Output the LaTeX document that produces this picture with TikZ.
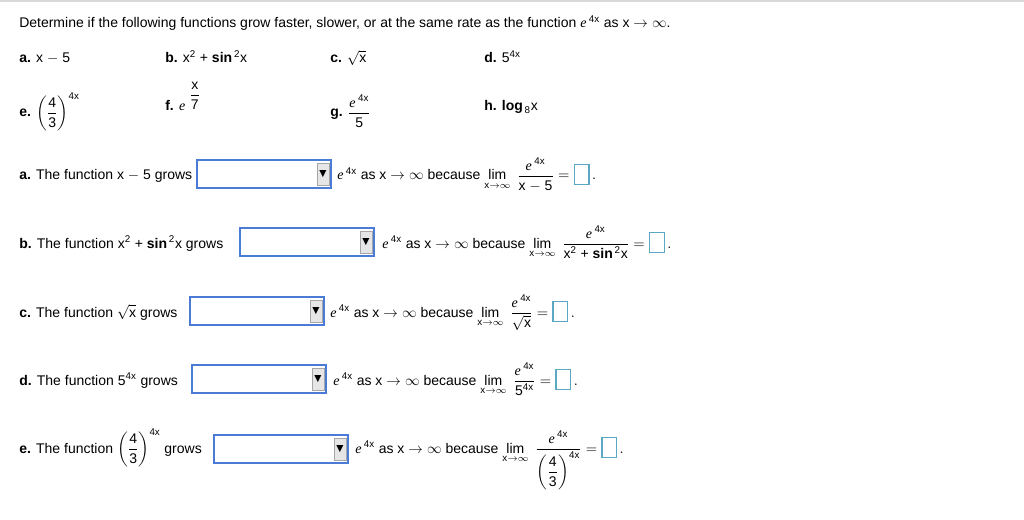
\documentclass[tikz,border=0pt]{standalone}
\usepackage{amsmath}
\usepackage{fontspec}
\setmainfont{Liberation Sans}
\newfontfamily\ser{Liberation Serif}
\newfontfamily\djsans{DejaVu Sans}
\definecolor{ddb}{HTML}{4A7BD6}
\definecolor{boxc}{HTML}{5BA7C4}
\definecolor{btn}{HTML}{E6E6E6}
\newcommand\ee{\text{\ser\itshape e}\,^{\text{4x}}}
\newcommand\tx[1]{\text{#1}}
\newcommand\ansbox{\setlength\fboxsep{0pt}\setlength\fboxrule{1pt}\fcolorbox{boxc}{white}{\rule[-3pt]{0pt}{14pt}\hspace{10pt}}\,.}
\newcommand\limx{\mathop{\text{lim}}\limits_{\text{x}\to\infty}\;}
\begin{document}
\begin{tikzpicture}[x=0.75pt,y=-0.75pt,
  txt/.style={anchor=base west,inner sep=0pt,font=\fontsize{10.5}{12.5}\selectfont},
  dd/.style={draw=ddb,line width=0.8pt,fill=white},
  ddbtn/.style={draw=gray!70,fill=btn}]
\useasboundingbox (0,0) rectangle (1024,520);
\fill[white] (0,0) rectangle (1024,520);
\draw[gray!30,line width=1.5pt] (0,1) -- (1024,1);
\node[txt] (title) at (19,28) {Determine if the following functions grow faster, slower, or at the same rate as the function $\ee$ as x $\to\infty$.};
\node[txt] (ia) at (19,63) {\textbf{a.} x $-$ 5};
\node[txt] (ib) at (165,63) {\textbf{b.} x$^{\tx{2}}$ + \textbf{sin}$^{\,\tx{2}}$x};
\node[txt] (ic) at (330,63) {\textbf{c.} $\sqrt{\tx{x}}$};
\node[txt] (id) at (484,63) {\textbf{d.} 5$^{\tx{4x}}$};
\node[txt] (ie) at (19,117) {\textbf{e.} $\left(\dfrac{\tx{4}}{\tx{3}}\right)^{\tx{4x}}$};
\node[txt] (if) at (165,111) {\textbf{f.} $\text{\ser\itshape e}\;^{\raisebox{3pt}{$\dfrac{\tx{x}}{\tx{7}}$}}$};
\node[txt] (ig) at (330,117) {\textbf{g.} $\dfrac{\ee}{\tx{5}}$};
\node[txt] (ih) at (484,111) {\textbf{h. log}$_{\,\tx{8}}$x};
% rows
\foreach \n/\y/\lab/\xa in {
  a/180/{\textbf{a.} The function x $-$ 5 grows}/197,
  b/248/{\textbf{b.} The function x$^{\tx{2}}$ + \textbf{sin}$^{\,\tx{2}}$x grows}/240,
  c/317/{\textbf{c.} The function $\sqrt{\tx{x}}$ grows}/190,
  d/385/{\textbf{d.} The function 5$^{\tx{4x}}$ grows}/192}{
  \node[txt] (lab\n) at (19,\y) {\lab};
  \draw[dd] (\xa,\y-20) rectangle (\xa+134,\y+8);
  \draw[ddbtn] (\xa+120,\y-17) rectangle (\xa+132,\y+5);
  \node[inner sep=0pt,font=\djsans\fontsize{7}{8}\selectfont] (arr\n) at (\xa+126,\y-6) {▼};
}
\node[txt] (ta) at (337,180) {$\ee$ as x $\to\infty$ because $\limx \dfrac{\ee}{\tx{x $-$ 5}} = \ansbox$};
\node[txt] (tb) at (382,248) {$\ee$ as x $\to\infty$ because $\limx \dfrac{\ee}{\tx{x$^{\tx{2}}$ + \textbf{sin}$^{\,\tx{2}}$x}} = \ansbox$};
\node[txt] (tc) at (330,317) {$\ee$ as x $\to\infty$ because $\limx \dfrac{\ee}{\sqrt{\tx{x}}} = \ansbox$};
\node[txt] (td) at (333,385) {$\ee$ as x $\to\infty$ because $\limx \dfrac{\ee}{\tx{5$^{\tx{4x}}$}} = \ansbox$};
\node[txt] (labe) at (19,453) {\textbf{e.} The function $\left(\dfrac{\tx{4}}{\tx{3}}\right)^{\tx{4x}}$ grows};
\draw[dd] (214,435) rectangle (348,463);
\draw[ddbtn] (334,438) rectangle (346,460);
\node[inner sep=0pt,font=\djsans\fontsize{7}{8}\selectfont] (arre) at (340,449) {▼};
\node[txt] (te) at (355,453) {$\ee$ as x $\to\infty$ because $\limx \dfrac{\ee}{\left(\dfrac{\tx{4}}{\tx{3}}\right)^{\tx{4x}}} = \ansbox$};
\end{tikzpicture}
\end{document}
